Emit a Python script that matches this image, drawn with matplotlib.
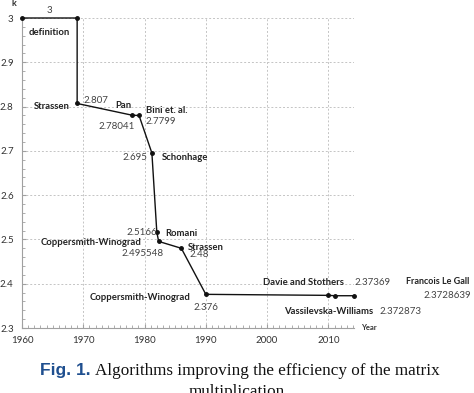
import matplotlib
matplotlib.use("Agg")
import matplotlib.pyplot as plt
from matplotlib.ticker import MultipleLocator, FuncFormatter

# Data
years = [1960, 1969, 1969, 1978, 1979.1, 1981.2, 1982.0, 1982.3, 1986, 1990, 2010, 2011.1, 2014.1]
k_vals = [3.0, 3.0, 2.807, 2.78041, 2.7799, 2.695, 2.5166, 2.495548, 2.48, 2.376, 2.37369, 2.372873, 2.3728639]

# (text, x, y, ha, bold)
labels = [
    ("3", 1964.4, 3.016, "center", False),
    ("definition", 1964.4, 2.968, "center", True),
    ("Strassen", 1967.8, 2.800, "right", True),
    ("2.807", 1970.1, 2.814, "left", False),
    ("Pan", 1976.5, 2.803, "center", True),
    ("Bini et. al.", 1980.2, 2.791, "left", True),
    ("2.7799", 1980.2, 2.767, "left", False),
    ("2.78041", 1978.4, 2.755, "right", False),
    ("2.695", 1980.5, 2.685, "right", False),
    ("Schonhage", 1982.8, 2.686, "left", True),
    ("2.5166", 1982.0, 2.516, "right", False),
    ("Romani", 1983.3, 2.514, "left", True),
    ("Coppersmith-Winograd", 1979.5, 2.492, "right", True),
    ("2.495548", 1979.7, 2.468, "center", False),
    ("Strassen", 1987.1, 2.482, "left", True),
    ("2.48", 1987.3, 2.465, "left", False),
    ("Coppersmith-Winograd", 1987.5, 2.369, "right", True),
    ("2.376", 1990.0, 2.346, "center", False),
    ("Davie and Stothers", 1999.4, 2.402, "left", True),
    ("2.37369", 2014.2, 2.402, "left", False),
    ("Francois Le Gall", 2022.6, 2.404, "left", True),
    ("2.3728639", 2025.6, 2.373, "left", False),
    ("Vassilevska-Williams", 2002.7, 2.338, "left", True),
    ("2.372873", 2018.4, 2.338, "left", False),
]

xticks = [1960, 1970, 1980, 1990, 2000, 2010]
yticks = [2.3, 2.4, 2.5, 2.6, 2.7, 2.8, 2.9, 3.0]

plt.rcParams['font.family'] = ['Lato', 'DejaVu Sans']

W, H = 474, 393
fig = plt.figure(figsize=(W / 100, H / 100), dpi=100)
ax = fig.add_axes([22 / W, 1 - 328 / H, (353.5 - 22) / W, (328 - 18) / H])

ax.plot(years, k_vals, color="#111111", lw=1.0, marker="o", ms=2.5, zorder=3, clip_on=False)

ax.set_xlim(1960, 2014.1)
ax.set_ylim(2.3, 3.0)
ax.set_xticks(xticks)
ax.set_yticks(yticks)
ax.xaxis.set_minor_locator(MultipleLocator(1))
ax.yaxis.set_minor_locator(MultipleLocator(0.02))
ax.yaxis.set_major_formatter(FuncFormatter(lambda v, p: f"{v:g}"))

for s in ["top", "right"]:
    ax.spines[s].set_visible(False)
for s in ["left", "bottom"]:
    ax.spines[s].set_color("#a0a0a0")
    ax.spines[s].set_linewidth(0.8)

ax.tick_params(which="both", direction="in", color="#a0a0a0", labelsize=7, labelcolor="#333333")
ax.tick_params(which="major", length=3, pad=6)
ax.tick_params(which="minor", length=2)

ax.grid(True, which="major", ls=(0, (2, 2)), color="#c4c4c4", lw=0.7)
ax.set_axisbelow(True)

for text, x, y, ha, bold in labels:
    size = 6.8 if bold else 7
    if text == "Francois Le Gall":
        size = 6.5
    ax.text(x, y, text, ha=ha, va="center", fontsize=size,
            fontweight="bold" if bold else "normal",
            color="#222222" if bold else "#444444", clip_on=False)

ax.text(2015.3, 2.3, "Year", ha="left", va="center", fontsize=5.5, fontweight="bold", color="#333333")
ax.text(1958.6, 3.032, "k", ha="center", va="center", fontsize=6.5, fontweight="bold", color="#333333")

# Caption
t1 = fig.text(40 / W, 1 - 375 / H, "Fig. 1.", ha="left", va="baseline", fontsize=12.5,
              fontweight="bold", color="#1f4f8f", family=["Liberation Sans"])
fig.canvas.draw()
bb = t1.get_window_extent()
fig.text((bb.x1 + 4) / W, 1 - 375 / H, "Algorithms improving the efficiency of the matrix",
         ha="left", va="baseline", fontsize=12.3, color="#111111", family=["Liberation Serif"])
fig.text(237 / W, 1 - 396 / H, "multiplication", ha="center", va="baseline", fontsize=12.3,
         color="#111111", family=["Liberation Serif"])

fig.savefig("out.png", dpi=100)
